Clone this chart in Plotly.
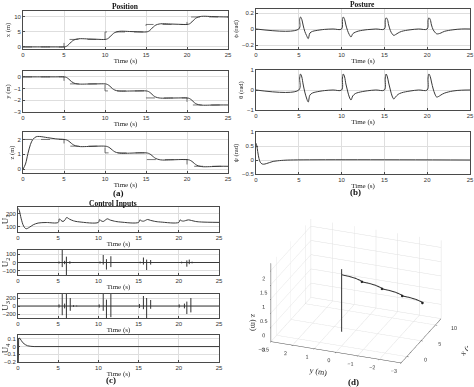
import plotly.graph_objects as go

W, H = 474, 387

# ---------------- data ----------------
# (a) Position: actual trajectory samples
t_pos = [0, 0.3, 0.6, 0.9, 1.2, 1.6, 2, 3, 4,
         5, 5.3, 5.6, 5.9, 6.2, 6.6, 7, 8, 9,
         10, 10.3, 10.6, 10.9, 11.2, 11.6, 12, 13, 14,
         15, 15.3, 15.6, 15.9, 16.2, 16.6, 17, 18, 19,
         20, 20.3, 20.6, 20.9, 21.2, 21.6, 22, 23, 24,
         25]
x_pos = [0, 0, 0, 0, 0, 0, 0, 0, 0,
         0, 0.2, 0.85, 1.7, 2.3, 2.65, 2.75, 2.65, 2.55,
         2.5, 2.7, 3.35, 4.2, 4.8, 5.15, 5.25, 5.15, 5.05,
         5.0, 5.2, 5.85, 6.7, 7.3, 7.65, 7.75, 7.65, 7.55,
         7.5, 7.7, 8.35, 9.2, 9.8, 10.15, 10.25, 10.15, 10.05,
         10.0]
y_pos = [0, 0, 0, 0, 0, 0, 0, 0, 0,
         0, -0.05, -0.2, -0.4, -0.53, -0.6, -0.62, -0.61, -0.6,
         -0.6, -0.65, -0.8, -1.0, -1.13, -1.2, -1.22, -1.21, -1.2,
         -1.2, -1.25, -1.4, -1.6, -1.73, -1.8, -1.82, -1.81, -1.8,
         -1.8, -1.85, -2.0, -2.2, -2.33, -2.4, -2.42, -2.41, -2.4,
         -2.4]
z_pos = [0, 0.35, 1.05, 1.65, 2.0, 2.18, 2.2, 2.12, 2.04,
         2.0, 1.97, 1.88, 1.74, 1.62, 1.55, 1.52, 1.53, 1.55,
         1.55, 1.52, 1.43, 1.29, 1.17, 1.1, 1.07, 1.08, 1.1,
         1.1, 1.07, 0.98, 0.84, 0.72, 0.65, 0.62, 0.63, 0.65,
         0.65, 0.62, 0.53, 0.39, 0.27, 0.2, 0.17, 0.18, 0.2,
         0.2]
# (a) Position: reference (step) values
t_ref = [0, 5, 10, 15, 20, 25]
x_ref = [0, 2.5, 5, 7.5, 10, 10]
y_ref = [0, -0.6, -1.2, -1.8, -2.4, -2.4]
z_ref = [2, 1.55, 1.1, 0.65, 0.2, 0.2]

# (b) Posture
t_att = [0,
         5, 5.1, 5.2, 5.35, 5.5, 5.7, 5.9, 6.1, 6.3, 6.6, 7, 8, 9,
         10, 10.1, 10.2, 10.35, 10.5, 10.7, 10.9, 11.1, 11.3, 11.6, 12, 13, 14,
         15, 15.1, 15.2, 15.35, 15.5, 15.7, 15.9, 16.1, 16.3, 16.6, 17, 18, 19,
         20, 20.1, 20.2, 20.35, 20.5, 20.7, 20.9, 21.1, 21.3, 21.6, 22, 23, 24,
         25]
phi = [0,
       0, 0.12, 0.15, 0.12, 0.05, -0.03, -0.08, -0.12, -0.05, -0.03, -0.02, -0.005, 0,
       0, 0.12, 0.15, 0.12, 0.05, -0.02, -0.07, -0.1, -0.06, -0.04, -0.025, -0.008, 0,
       0, 0.11, 0.14, 0.12, 0.05, -0.02, -0.06, -0.08, -0.07, -0.05, -0.03, -0.01, 0,
       0, 0.11, 0.14, 0.12, 0.05, -0.01, -0.04, -0.06, -0.06, -0.05, -0.03, -0.01, 0,
       0]
theta = [0,
         0, 0.6, 0.8, 0.65, 0.3, -0.1, -0.4, -0.6, -0.25, -0.15, -0.1, -0.03, 0,
         0, 0.6, 0.8, 0.65, 0.3, -0.05, -0.35, -0.5, -0.3, -0.18, -0.12, -0.04, 0,
         0, 0.6, 0.8, 0.65, 0.35, 0.0, -0.3, -0.45, -0.35, -0.22, -0.14, -0.05, 0,
         0, 0.6, 0.8, 0.68, 0.4, 0.05, -0.2, -0.35, -0.33, -0.25, -0.16, -0.05, -0.01,
         0]
t_psi = [0, 0.1, 0.2, 0.35, 0.5, 0.7, 0.9, 1.2, 1.6, 2.0, 2.5, 3, 4, 25]
psi = [0.6, 0.5, 0.3, 0.05, -0.08, -0.14, -0.15, -0.13, -0.09, -0.05, -0.03, -0.015, 0, 0]

# (c) Control inputs
t_u1 = [0, 0.15, 0.4, 0.7, 1.0, 1.4, 1.9, 2.5, 3.5,
        5.0, 5.15, 5.35, 5.6, 5.85, 6.05, 6.4, 6.9, 7.6,
        10.0, 10.15, 10.35, 10.6, 10.85, 11.1, 11.5, 12.0, 12.7,
        15.0, 15.15, 15.35, 15.6, 15.85, 16.1, 16.5, 17.0, 17.7,
        20.0, 20.15, 20.35, 20.6, 20.85, 21.2, 21.6, 22.1, 22.8,
        25]
u1 = [240, 225, 160, 105, 85, 95, 115, 128, 132,
      133, 160, 148, 140, 152, 170, 158, 145, 137,
      133, 155, 145, 140, 150, 160, 150, 142, 136,
      133, 152, 145, 142, 148, 155, 148, 141, 136,
      133, 152, 145, 143, 147, 152, 147, 140, 136,
      133]
u2_spike_t = [5.1, 5.5, 5.8, 6.02, 6.45, 6.9, 10.2, 10.6, 11.0, 11.55,
              15.2, 15.6, 16.0, 16.5, 20.35, 21.0, 21.3, 21.65]
u2_spike_hi = [12, 150, 20, 70, 15, 5, 12, 90, 40, 75, 10, 60, 35, 30, 10, 25, 35, 10]
u2_spike_lo = [-12, -55, -20, -150, -15, -5, -12, -25, -85, -55, -10, -25, -90, -25, -10, -50, -20, -10]
u3_spike_t = [5.1, 5.5, 5.8, 6.02, 6.5, 6.9, 7.3, 10.1, 10.6, 11.0, 11.55,
              15.1, 15.6, 16.0, 16.5, 20.05, 20.7, 21.0, 21.5]
u3_spike_hi = [40, 300, 60, 300, 200, 20, 10, 40, 300, 160, 300, 50, 250, 200, 150, 40, 60, 110, 200]
u3_spike_lo = [-40, -230, -60, -300, -120, -20, -10, -40, -120, -300, -280, -50, -80, -300, -70, -40, -60, -200, -160]
t_u4 = [0, 0.04, 0.08, 0.2, 0.4, 0.6, 0.9, 1.2, 1.6, 2.0, 25]
u4 = [-0.2, -0.2, 0.1, 0.11, 0.08, 0.05, 0.025, 0.01, 0.003, 0, 0]
t_base = [0, 25]
base = [0, 0]

# ---------------- helpers ----------------
def fx(px):
    return px / W


def fy(py):
    return 1 - py / H


def spikes(ts, hi, lo):
    xs, ys = [], []
    for t, a, b in zip(ts, hi, lo):
        xs += [t, t, None]
        ys += [a, b, None]
    return xs, ys


LINE = '#4a4a4a'
GRID = '#dedede'
TICKF = dict(size=6, family='Liberation Sans', color='#333')
TITLEF = dict(size=7, family='Liberation Serif', color='#222')

# subplot boxes in page px: (left, right, top, bottom)
boxes = [
    (23, 228, 11, 49), (23, 228, 71, 112), (23, 228, 132, 173),      # a
    (256, 470, 9, 49), (256, 470, 70, 110), (256, 470, 132, 174),    # b
    (18, 219, 207, 232), (18, 219, 250, 275), (18, 219, 294, 318), (18, 219, 335, 362),  # c
]
ycfg = [
    dict(range=[-0.7, 12], tickvals=[0, 5, 10], title='x (m)', tf=6.5),
    dict(range=[-3, 0.5], tickvals=[-3, -2, -1, 0], title='y (m)', tf=6.5),
    dict(range=[-0.25, 2.5], tickvals=[0, 1, 2], title='z (m)', tf=6.5),
    dict(range=[-0.25, 0.25], tickvals=[-0.2, 0, 0.2], title='ϕ (rad)', tf=6.5),
    dict(range=[-1, 1], tickvals=[-1, 0, 1], title='θ (rad)', tf=6.5),
    dict(range=[-0.5, 1], tickvals=[-0.5, 0, 0.5, 1], title='ψ (rad)', tf=6.5),
    dict(range=[60, 250], tickvals=[100, 200], title='U<sub>1</sub>', tf=9),
    dict(range=[-150, 150], tickvals=[-100, 0, 100], title='U<sub>2</sub>', tf=9),
    dict(range=[-300, 300], tickvals=[-200, 0, 200], title='U<sub>3</sub>', tf=9),
    dict(range=[-0.2, 0.15], tickvals=[-0.2, -0.1, 0, 0.1], title='U<sub>4</sub>', tf=9),
]

fig = go.Figure()
layout = dict(width=W, height=H, margin=dict(l=0, r=0, t=0, b=0),
              paper_bgcolor='white', plot_bgcolor='white', showlegend=False)

for i, (box, yc) in enumerate(zip(boxes, ycfg)):
    n = '' if i == 0 else str(i + 1)
    l, r, t, b = box
    layout['xaxis' + n] = dict(
        domain=[fx(l), fx(r)], anchor='y' + n, range=[0, 25],
        tickvals=[0, 5, 10, 15, 20, 25], showgrid=True, gridcolor=GRID, gridwidth=0.6,
        showline=True, mirror=True, linecolor=LINE, linewidth=0.8,
        ticks='inside', ticklen=2, tickcolor=LINE, tickfont=TICKF, zeroline=False,
        automargin=False,
        title=dict(text='Time (s)', font=TITLEF, standoff=1))
    layout['yaxis' + n] = dict(
        domain=[fy(b), fy(t)], anchor='x' + n, range=yc['range'],
        tickvals=yc['tickvals'], showgrid=True, gridcolor=GRID, gridwidth=0.6,
        showline=True, mirror=True, linecolor=LINE, linewidth=0.8,
        ticks='inside', ticklen=2, tickcolor=LINE, tickfont=TICKF, zeroline=False,
        automargin=False,
        title=dict(text=yc['title'], font=dict(size=yc['tf'], family='Liberation Serif', color='#222'),
                   standoff=2))

SOL = dict(color='#3a3a3a', width=1)
DSH = dict(color='#555', width=0.8, dash='dash')

# (a)
fig.add_trace(go.Scatter(x=t_ref, y=x_ref, mode='lines', line=DSH, line_shape='hv', xaxis='x', yaxis='y'))
fig.add_trace(go.Scatter(x=t_pos, y=x_pos, mode='lines', line=SOL, line_shape='spline', xaxis='x', yaxis='y'))
fig.add_trace(go.Scatter(x=t_ref, y=y_ref, mode='lines', line=DSH, line_shape='hv', xaxis='x2', yaxis='y2'))
fig.add_trace(go.Scatter(x=t_pos, y=y_pos, mode='lines', line=SOL, line_shape='spline', xaxis='x2', yaxis='y2'))
fig.add_trace(go.Scatter(x=t_ref, y=z_ref, mode='lines', line=DSH, line_shape='hv', xaxis='x3', yaxis='y3'))
fig.add_trace(go.Scatter(x=t_pos, y=z_pos, mode='lines', line=SOL, line_shape='spline', xaxis='x3', yaxis='y3'))
# (b)
fig.add_trace(go.Scatter(x=t_att, y=phi, mode='lines', line=SOL, line_shape='spline', xaxis='x4', yaxis='y4'))
fig.add_trace(go.Scatter(x=t_att, y=theta, mode='lines', line=SOL, line_shape='spline', xaxis='x5', yaxis='y5'))
fig.add_trace(go.Scatter(x=t_psi, y=psi, mode='lines', line=SOL, line_shape='spline', xaxis='x6', yaxis='y6'))
# (c)
fig.add_trace(go.Scatter(x=t_u1, y=u1, mode='lines', line=SOL, line_shape='spline', xaxis='x7', yaxis='y7'))
fig.add_trace(go.Scatter(x=t_base, y=base, mode='lines', line=SOL, xaxis='x8', yaxis='y8'))
sx, sy = spikes(u2_spike_t, u2_spike_hi, u2_spike_lo)
fig.add_trace(go.Scatter(x=sx, y=sy, mode='lines', line=dict(color='#333', width=1), xaxis='x8', yaxis='y8'))
fig.add_trace(go.Scatter(x=t_base, y=base, mode='lines', line=SOL, xaxis='x9', yaxis='y9'))
sx, sy = spikes(u3_spike_t, u3_spike_hi, u3_spike_lo)
fig.add_trace(go.Scatter(x=sx, y=sy, mode='lines', line=dict(color='#333', width=1), xaxis='x9', yaxis='y9'))
fig.add_trace(go.Scatter(x=t_u4, y=u4, mode='lines', line=SOL, xaxis='x10', yaxis='y10'))

# (d) 3D trajectory
fig.add_trace(go.Scatter3d(x=x_pos, y=y_pos, z=z_pos, mode='lines',
                           line=dict(color='#333', width=2), scene='scene'))
fig.add_trace(go.Scatter3d(x=x_ref[1:5], y=y_ref[1:5], z=z_ref[1:5], mode='markers',
                           marker=dict(color='#222', size=1.5), scene='scene'))

ax3 = dict(showbackground=False, gridcolor='#e0e0e0', gridwidth=1, showline=True,
           linecolor=LINE, linewidth=1, zeroline=False, ticks='outside', ticklen=2,
           tickcolor=LINE, tickfont=dict(size=8, family='Liberation Sans', color='#333'),
           tickangle=0, showspikes=False)
T3 = dict(size=8, family='Liberation Serif', color='#222')
layout['scene'] = dict(
    domain=dict(x=[fx(244), fx(468)], y=[fy(384), fy(198)]),
    xaxis=dict(range=[-2, 12], tickvals=[0, 5, 10],
               title=dict(text='x (m)', font=T3), **ax3),
    yaxis=dict(range=[-3, 3], tickvals=[-3, -2, -1, 0, 1, 2, 3],
               title=dict(text='y (m)', font=T3), **ax3),
    zaxis=dict(range=[-0.5, 2.25], tickvals=[-0.5, 0, 0.5, 1, 1.5, 2],
               title=dict(text='z (m)', font=T3), **ax3),
    aspectmode='manual', aspectratio=dict(x=1.2, y=1.5, z=0.93),
    camera=dict(eye=dict(x=-1.69, y=-0.65, z=0.85), up=dict(x=0, y=0, z=1),
                center=dict(x=0, y=0, z=0), projection=dict(type='orthographic')),
    bgcolor='white')

# titles and panel labels (page px)
notes = [
    ('<b>Position</b>', 126, 6, 7.5),
    ('<b>Posture</b>', 362, 5, 7.5),
    ('<b>Control Inputs</b>', 113, 203, 7.5),
    ('<b>(a)</b>', 118, 193, 9),
    ('<b>(b)</b>', 355, 192, 9),
    ('<b>(c)</b>', 111, 380, 9),
    ('<b>(d)</b>', 353, 382, 9),
]
layout['annotations'] = [
    dict(text=tx, x=fx(px), y=fy(py), xref='paper', yref='paper', showarrow=False,
         xanchor='center', yanchor='middle',
         font=dict(size=sz, family='Liberation Serif', color='#111'))
    for tx, px, py, sz in notes
]

fig.update_layout(**layout)
# the page body has a default 8px margin; remove it so the figure fills the window
fig.write_html('out.html', config={'displayModeBar': False},
               post_script="document.body.style.margin='0';document.body.style.overflow='hidden';")
